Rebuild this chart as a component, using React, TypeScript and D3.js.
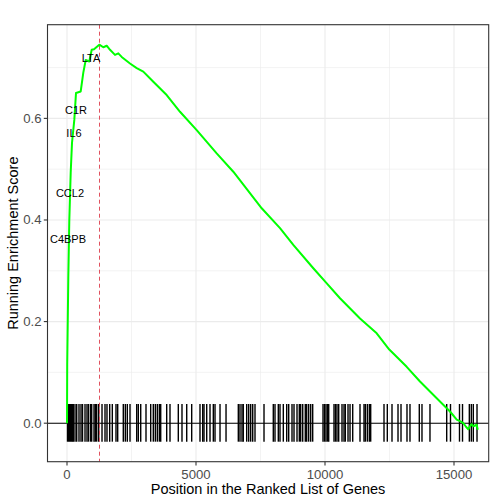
import React from 'react';
import * as d3 from 'd3';

// positions of the gene-set members in the ranked list (rug)
const HIT_POSITIONS = [
  19, 58, 97, 136, 174, 213, 244, 310, 376, 465, 543, 601, 698, 775, 833, 911, 957,
  1047, 1097, 1151, 1229, 1357, 1473, 1550, 1655, 1756, 1899, 1965, 2182, 2260, 2337,
  2442, 2702, 2764, 2857, 3062, 3244, 3345, 3423, 3500, 3578, 3632, 3864, 3992, 4314,
  4457, 4640, 4833, 5155, 5260, 5310, 5415, 5543, 5671, 5737, 5931, 6164, 6640, 6705,
  6783, 6833, 6965, 7043, 7120, 7198, 7287, 7636, 7996, 8062, 8190, 8256, 8384, 8516,
  8593, 8721, 8799, 8915, 9004, 9058, 9136, 9236, 9291, 9368, 9446, 9523, 9923, 9981,
  10039, 10097, 10144, 10349, 10407, 10465, 10531, 10659, 10737, 10787, 10892, 10970,
  11074, 11357, 11512, 11562, 11640, 11717, 11771, 12287, 12415, 12597, 12830, 12946,
  13178, 13294, 13655, 13759, 14069, 14717, 14864, 15213, 15330, 15594, 15671, 15748,
  15892
];

// running enrichment score
const CURVE_POS = [
  0, 8, 50, 89, 143, 194, 283, 349, 531, 632, 725, 864, 957, 1047, 1252, 1407, 1539,
  1667, 1860, 1988, 2120, 2442, 2702, 2957, 3345, 3864, 4380, 5027, 5802, 6446, 7547,
  8256, 8771, 9547, 10000, 10581, 11357, 12004, 12492, 13167, 13682, 14330, 14845,
  15105, 15233, 15360, 15465, 15554, 15620, 15686, 15748, 15880, 15919
];
const CURVE_SCORE = [
  0.0, 0.115, 0.286, 0.40, 0.493, 0.552, 0.597, 0.65, 0.653, 0.69, 0.715, 0.712, 0.735,
  0.736, 0.745, 0.74, 0.743, 0.735, 0.725, 0.728, 0.721, 0.708, 0.699, 0.692, 0.672,
  0.646, 0.613, 0.577, 0.531, 0.495, 0.423, 0.384, 0.351, 0.305, 0.279, 0.246, 0.206,
  0.177, 0.145, 0.111, 0.082, 0.049, 0.023, 0.007, 0.004, 0.0, -0.007, -0.012, -0.006,
  -0.002, -0.006, -0.003, -0.013
];

// peak position (dashed line)
const PEAK_POS = 1260;

// core genes labelled on the curve
const GENE_LABELS = ['LTA', 'C1R', 'IL6', 'CCL2', 'C4BPB'];
const LABEL_POS = [930, 349, 271, 116, 39];
const LABEL_SCORE = [0.719, 0.617, 0.572, 0.454, 0.363];

const X_TICKS = [0, 5000, 10000, 15000];
const X_MINOR = [2500, 7500, 12500];
const Y_TICKS = [0, 0.2, 0.4, 0.6];
const Y_MINOR = [0.1, 0.3, 0.5, 0.7];

const W = 504;
const H = 504;
const FONT = '"Liberation Sans", Arial, sans-serif';

export default function App() {
  const x = d3.scaleLinear().domain([-756, 16345]).range([47.5, 488.7]);
  const y = d3.scaleLinear().domain([-0.0758, 0.7844]).range([461.7, 24.7]);
  const [x0, x1] = x.range();
  const [y0, y1] = y.range();

  const line = d3.line<number>()
    .x((_, i) => x(CURVE_POS[i]))
    .y(d => y(d));

  const fmt = d3.format('.1f');

  return (
    <svg width={W} height={H} style={{ position: 'absolute', left: 0, top: 0, background: '#fff' }}>
      <rect x={0} y={0} width={W} height={H} fill="#fff" />
      {/* grid */}
      {X_MINOR.map(t => (
        <line key={'xm' + t} x1={x(t)} x2={x(t)} y1={y1} y2={y0} stroke="#ebebeb" strokeWidth={0.6} />
      ))}
      {Y_MINOR.map(t => (
        <line key={'ym' + t} x1={x0} x2={x1} y1={y(t)} y2={y(t)} stroke="#ebebeb" strokeWidth={0.6} />
      ))}
      {X_TICKS.map(t => (
        <line key={'xg' + t} x1={x(t)} x2={x(t)} y1={y1} y2={y0} stroke="#ebebeb" strokeWidth={1.1} />
      ))}
      {Y_TICKS.map(t => (
        <line key={'yg' + t} x1={x0} x2={x1} y1={y(t)} y2={y(t)} stroke="#ebebeb" strokeWidth={1.1} />
      ))}

      {/* zero line */}
      <line x1={x0} x2={x1} y1={y(0)} y2={y(0)} stroke="#000" strokeWidth={1.1} />

      {/* rug of hits */}
      {HIT_POSITIONS.map((p, i) => (
        <line key={'h' + i} x1={x(p)} x2={x(p)} y1={y(0.0378)} y2={y(-0.0364)} stroke="#000" strokeWidth={1.4} />
      ))}

      {/* peak */}
      <line x1={x(PEAK_POS)} x2={x(PEAK_POS)} y1={y1} y2={y0}
        stroke="#e0525f" strokeWidth={1} strokeDasharray="4,3" />

      {/* running score */}
      <path d={line(CURVE_SCORE) as string} fill="none" stroke="#00ff00" strokeWidth={2} strokeLinejoin="round" />

      {/* gene labels */}
      {GENE_LABELS.map((g, i) => (
        <text key={g} x={x(LABEL_POS[i])} y={y(LABEL_SCORE[i])} textAnchor="middle"
          dominantBaseline="central" fontFamily={FONT} fontSize={11} fill="#000">{g}</text>
      ))}

      {/* panel border */}
      <rect x={x0} y={y1} width={x1 - x0} height={y0 - y1} fill="none" stroke="#333" strokeWidth={1.1} />

      {/* x axis */}
      {X_TICKS.map(t => (
        <g key={'xt' + t}>
          <line x1={x(t)} x2={x(t)} y1={y0} y2={y0 + 3.7} stroke="#333" strokeWidth={1.1} />
          <text x={x(t)} y={y0 + 17.5} textAnchor="middle" fontFamily={FONT} fontSize={13.2} fill="#4d4d4d">{t}</text>
        </g>
      ))}
      <text x={(x0 + x1) / 2} y={494} textAnchor="middle" fontFamily={FONT} fontSize={14.5} fill="#000">
        Position in the Ranked List of Genes
      </text>

      {/* y axis */}
      {Y_TICKS.map(t => (
        <g key={'yt' + t}>
          <line x1={x0 - 3.7} x2={x0} y1={y(t)} y2={y(t)} stroke="#333" strokeWidth={1.1} />
          <text x={x0 - 6} y={y(t)} textAnchor="end" dominantBaseline="central"
            fontFamily={FONT} fontSize={13.2} fill="#4d4d4d">{fmt(t)}</text>
        </g>
      ))}
      <text transform={`translate(18,${(y0 + y1) / 2}) rotate(-90)`} textAnchor="middle"
        fontFamily={FONT} fontSize={14.5} fill="#000">
        Running Enrichment Score
      </text>
    </svg>
  );
}
